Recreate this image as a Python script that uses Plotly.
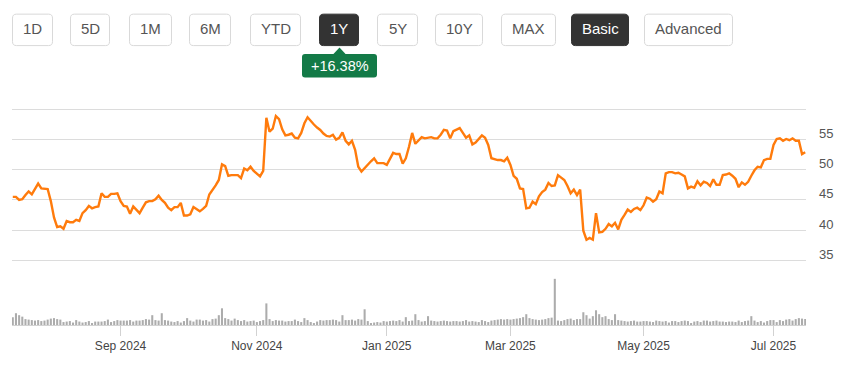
import pandas as pd
import plotly.graph_objects as go

# ---------------- data ----------------
holidays = ["2024-09-02", "2024-11-28", "2024-12-25", "2025-01-01", "2025-01-09",
            "2025-01-20", "2025-02-17", "2025-04-18", "2025-05-26", "2025-06-19", "2025-07-04"]

price = [
    45.5, 45.5, 45.0, 45.1, 45.8, 46.4, 45.9, 46.9, 47.7, 46.9,
    46.8, 46.8, 44.8, 42.1, 40.5, 40.6, 40.2, 41.5, 41.3, 41.3,
    41.7, 41.5, 42.8, 43.3, 44.0, 43.6, 43.8, 43.9, 46.1, 45.5,
    45.5, 46.0, 46.0, 46.1, 44.8, 44.0, 43.9, 42.7, 43.9, 43.4,
    42.8, 43.7, 44.6, 44.8, 44.8, 45.1, 45.7, 45.0, 44.5, 43.7,
    43.3, 43.8, 43.8, 44.5, 42.4, 42.4, 42.6, 43.8, 43.4, 43.1,
    43.5, 44.0, 45.9, 46.6, 47.4, 48.3, 50.9, 50.6, 49.0, 49.1,
    49.1, 49.1, 48.6, 50.2, 49.9, 50.5, 49.8, 49.4, 48.9, 49.8,
    58.6, 56.3, 56.8, 58.9,
    58.4, 56.7, 55.7, 55.8, 56.0, 55.3, 55.2, 56.1, 57.7, 58.7,
    58.0, 57.5, 57.0, 56.6, 56.0, 55.6, 55.5, 55.8, 55.0, 55.3,
    56.2, 54.8, 54.2, 54.8, 53.3, 50.5, 49.7, 50.3, 50.9, 51.4,
    51.9, 51.1, 51.1, 51.1, 50.8, 51.9, 52.8, 52.6, 52.6, 51.0,
    51.9, 53.8, 56.1, 54.3, 54.8, 55.4, 55.2, 55.3, 55.4, 55.2,
    55.2, 55.8, 56.6, 56.5, 55.2, 56.4, 56.7, 56.9, 56.1, 55.3,
    55.7, 54.2, 54.5, 55.2, 55.7, 55.3, 54.1, 51.9, 51.7, 51.6,
    51.6, 51.4, 52.0, 50.8, 49.0, 48.5, 46.9, 46.8, 43.6, 43.7,
    44.7, 44.3, 45.6, 46.3,
    46.7, 47.8, 47.3, 47.4, 49.1, 48.7, 48.3, 47.3, 46.1, 46.7,
    45.8, 46.7, 39.9, 38.4, 38.7, 38.4, 42.8, 39.6, 39.7, 40.2,
    41.0, 40.6, 41.2, 40.1, 41.7, 42.5, 43.4, 43.0, 43.5, 43.7,
    43.3, 44.1, 45.4, 45.2, 44.7, 45.1, 46.4, 46.1, 49.4, 49.6,
    49.6, 49.4, 49.5, 49.2, 48.9, 46.9, 47.2, 47.0, 48.1, 47.4,
    48.0, 47.8, 47.3, 48.4, 47.5, 47.5, 49.1, 49.2, 49.4, 49.0,
    48.5, 47.1, 47.9, 47.5, 48.0, 49.0, 49.9, 50.5, 50.4, 51.6,
    51.8, 51.8, 54.1, 55.1, 55.2, 54.8, 55.1, 54.9, 55.2, 54.8,
    54.8, 52.6, 52.9,
]

volume_m = [
    8, 12, 10, 8.5, 6, 5.5, 5, 4.5, 5, 4,
    4.5, 5.5, 6.5, 7, 6, 5.5, 3, 3.5, 4, 2.5,
    5, 3.5, 2.5, 3, 4, 2, 3.5, 3.5, 3.5, 4,
    5.5, 3, 4, 5, 4.5, 4.5, 4.5, 5, 3.5, 4.5,
    4.5, 5, 6, 5.5, 10, 5, 4.5, 12, 5, 4.5,
    3.5, 3, 4, 2.5, 4, 7, 4.5, 3.5, 5.5, 5.5,
    4.5, 5, 3.5, 6, 6.5, 10, 17, 7, 6, 4.5,
    6.5, 5, 4, 5, 3.5, 4, 4.5, 3, 4, 5,
    22, 6, 4, 5, 4.5, 4.5, 3.5, 4, 4, 5.5,
    4, 3, 7, 5, 3, 2, 3.5, 5, 4.5, 5,
    5, 5.5, 5, 3.5, 10, 5, 5, 5.5, 4.5, 6,
    5.5, 16, 4, 2, 2.5, 3, 2.5, 4, 3.5, 4,
    4.5, 4, 5, 3.5, 8, 4, 4.5, 11, 5, 3.5,
    4, 9, 4.5, 4, 3.5, 4, 4.5, 4, 3.5, 4,
    4, 3.5, 4, 5, 3.5, 4, 3.5, 3, 5, 4,
    3, 4.5, 5, 5.5, 6, 5.5, 6, 5.5, 6, 6.5,
    7, 8, 11, 7, 6, 5.5, 5, 5.5, 6, 7,
    7.5, 47, 4.5, 4, 5, 6, 6.5, 5, 6, 6,
    13, 10, 6.5, 9, 15, 11, 8, 9, 6, 5,
    11, 5, 4.5, 4, 3.5, 4, 4.5, 3.5, 3.5, 4,
    4, 3.5, 3, 4.5, 4, 3.5, 4, 2.5, 4, 4,
    3, 4, 4.5, 4, 2, 3.5, 4, 3, 4.5, 4.5,
    3.5, 4, 4.5, 3.5, 3.5, 3, 3.5, 3.5, 3, 4.5,
    3, 4, 4.5, 9, 4.5, 3, 4, 2.5, 4, 5,
    5, 3, 5, 4, 5.5, 6, 4.5, 6, 7, 6.5,
    6,
]

tick_dates = ["2024-09-03", "2024-11-01", "2025-01-02", "2025-03-03", "2025-05-01", "2025-07-01"]
tick_labels = ["Sep 2024", "Nov 2024", "Jan 2025", "Mar 2025", "May 2025", "Jul 2025"]
price_ticks = [35, 40, 45, 50, 55, 60]
price_tick_text = ["35", "40", "45", "50", "55", ""]

range_buttons = ["1D", "5D", "1M", "6M", "YTD", "1Y", "5Y", "10Y", "MAX"]
mode_buttons = ["Basic", "Advanced"]
active_buttons = ["1Y", "Basic"]
change_label = "+16.38%"

# ---------------- dates ----------------
bd = pd.bdate_range("2024-07-16", "2025-07-16")
hol = set(holidays)
bd = [d for d in bd if d.strftime("%Y-%m-%d") not in hol]
n = min(len(bd), len(price), len(volume_m))
dates = [d.strftime("%Y-%m-%d") for d in bd[-n:]]
price = price[-n:]
volume_m = volume_m[-n:]

# ---------------- geometry helpers ----------------
W, H = 846, 365
ML, MR, MT, MB = 12, 40, 105, 36
PW, PH = W - ML - MR, H - MT - MB


def X(px):
    return (px - ML) / PW


def Y(py):
    return (H - MB - py) / PH


def rrect(x0, y0, x1, y1, r):
    pts = [
        ("M", x0 + r, y0), ("L", x1 - r, y0), ("Q", x1, y0, x1, y0 + r),
        ("L", x1, y1 - r), ("Q", x1, y1, x1 - r, y1),
        ("L", x0 + r, y1), ("Q", x0, y1, x0, y1 - r),
        ("L", x0, y0 + r), ("Q", x0, y0, x0 + r, y0),
    ]
    out = []
    for p in pts:
        if p[0] == "Q":
            out.append(f"Q {X(p[1]):.5f},{Y(p[2]):.5f} {X(p[3]):.5f},{Y(p[4]):.5f}")
        else:
            out.append(f"{p[0]} {X(p[1]):.5f},{Y(p[2]):.5f}")
    return " ".join(out) + " Z"


FONT = "Liberation Sans, Arial, Helvetica, sans-serif"

fig = go.Figure()
fig.add_trace(go.Bar(x=dates, y=volume_m, xaxis="x", yaxis="y",
                     marker=dict(color="#acacac", line=dict(width=0)),
                     hoverinfo="skip"))
fig.add_trace(go.Scatter(x=dates, y=price, xaxis="x2", yaxis="y2", mode="lines",
                         line=dict(color="#ff7b0c", width=2.4), hoverinfo="skip"))

vol_top_px = 279
# price axis: 60 at y=109.5, 35 at y=263 -> 6.14 px per unit
PPU = (263 - 109.5) / 25.0
p_lo, p_hi = 34.6, 60.5
price_top_px = 109.5 - (p_hi - 60) * PPU
price_bot_px = 263 + (35 - p_lo) * PPU

fig.update_layout(
    width=W, height=H,
    margin=dict(l=ML, r=MR, t=MT, b=MB),
    paper_bgcolor="white", plot_bgcolor="white",
    showlegend=False, bargap=0.35,
    font=dict(family=FONT, color="#444"),
    xaxis=dict(domain=[0, 1], anchor="y", type="category",
               range=[-0.25, n - 0.75],
               tickmode="array", tickvals=tick_dates, ticktext=tick_labels,
               ticks="outside", ticklen=10, tickcolor="#d2d2d2", tickwidth=1,
               showline=True, linecolor="#d2d2d2", linewidth=1,
               showgrid=False, zeroline=False,
               tickfont=dict(size=12, color="#444", family=FONT)),
    yaxis=dict(domain=[0, Y(vol_top_px)], range=[0, 50], showgrid=False,
               showticklabels=False, zeroline=False, showline=False),
    xaxis2=dict(domain=[0, 1], anchor="y2", type="category", matches="x",
                showticklabels=False, showgrid=False, zeroline=False, showline=False),
    yaxis2=dict(domain=[Y(price_bot_px), Y(price_top_px)], range=[p_lo, p_hi], side="right",
                anchor="x2",
                tickmode="array", tickvals=price_ticks, ticktext=price_tick_text,
                showgrid=True, gridcolor="#dcdcdc", gridwidth=1.3,
                zeroline=False, showline=False, ticks="",
                ticklabelshift=-6, ticklabelstandoff=12,
                tickfont=dict(size=13, color="#555", family=FONT)),
)

shapes = []
annotations = []

button_pos = {
    "1D": (12, 53), "5D": (70, 110), "1M": (129, 172), "6M": (189, 231),
    "YTD": (250, 301), "1Y": (319, 359), "5Y": (377, 418), "10Y": (435, 483),
    "MAX": (501, 556), "Basic": (571, 629), "Advanced": (644, 733),
}
BY0, BY1 = 12, 45
for lab in range_buttons + mode_buttons:
    x0, x1 = button_pos[lab]
    active = lab in active_buttons
    shapes.append(dict(type="path", xref="paper", yref="paper",
                       path=rrect(x0 + 0.5, BY0 + 0.5, x1 - 0.5, BY1 - 0.5, 4),
                       fillcolor="#333333" if active else "white",
                       line=dict(color="#333333" if active else "#d9d9d9", width=1),
                       layer="above"))
    annotations.append(dict(xref="paper", yref="paper", x=X((x0 + x1) / 2), y=Y((BY0 + BY1) / 2 - 1.5),
                            text=lab, showarrow=False, xanchor="center", yanchor="middle",
                            font=dict(size=15, color="white" if active else "#555", family=FONT)))

# change badge
GREEN = "#137a47"
shapes.append(dict(type="path", xref="paper", yref="paper",
                   path=rrect(302, 53, 377, 77, 3), fillcolor=GREEN,
                   line=dict(color=GREEN, width=0), layer="above"))
shapes.append(dict(type="path", xref="paper", yref="paper",
                   path=f"M {X(333):.5f},{Y(53.5):.5f} L {X(339.5):.5f},{Y(46.5):.5f} L {X(346):.5f},{Y(53.5):.5f} Z",
                   fillcolor=GREEN, line=dict(color=GREEN, width=0), layer="above"))
annotations.append(dict(xref="paper", yref="paper", x=X(339.5), y=Y(65),
                        text=change_label, showarrow=False, xanchor="center", yanchor="middle",
                        font=dict(size=14.5, color="white", family=FONT)))

fig.update_layout(shapes=shapes, annotations=annotations)
fig.write_html("out.html", config={"displayModeBar": False},
               post_script="document.body.style.margin='0';document.body.style.padding='0';"
                           "document.documentElement.style.overflow='hidden';")
